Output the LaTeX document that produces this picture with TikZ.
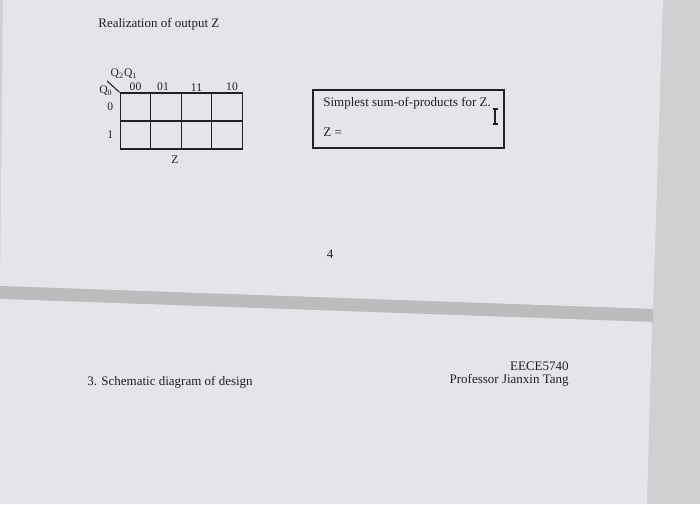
\documentclass[tikz,border=0pt]{standalone}
\usepackage{fontspec}
\setmainfont{Liberation Serif}
\usetikzlibrary{positioning}

\definecolor{pagegray}{HTML}{E4E5E8}
\definecolor{screengray}{HTML}{D0D0D2}
\definecolor{bandgray}{HTML}{BCBCBE}
\definecolor{inkgray}{HTML}{202022}

\tikzset{
	doctext/.style={font=\fontsize{7.4}{8.5}\selectfont, text=inkgray, inner sep=0pt},
	smalltext/.style={font=\fontsize{6.6}{7.5}\selectfont, text=inkgray, inner sep=0pt},
	kcell/.style={draw=inkgray, line width=0.8pt, minimum width=0.61cm, minimum height=0.56cm, inner sep=0pt},
	sopbox/.style={draw=inkgray, line width=0.8pt, minimum width=3.82cm, minimum height=1.16cm, inner sep=0pt}
}

\begin{document}
\begin{tikzpicture}[x=0.02cm, y=-0.02cm]
		\useasboundingbox (0,0) rectangle (700,504);
		% Screen, pages and the gap between them:
		\fill[screengray] (0,0) rectangle (700,504);
		\fill[pagegray] (3,0) -- (663,0) -- (653,309) -- (0,286) -- cycle;
		\fill[bandgray] (0,286) -- (653,309) -- (653,322) -- (0,299) -- cycle;
		\fill[pagegray] (0,299) -- (652,322) -- (647,504) -- (0,504) -- cycle;
		% Upper page:
		\node[doctext, anchor=west] (title) at (98,24) {Realization of output Z};
		\foreach \r in {0,1}
			\foreach \c in {0,...,3}
				\node[kcell] (k\r\c) at ({135.5+30.5*\c},{107+28*\r}) {};
		\foreach \c/\lab/\dx in {0/00/0, 1/01/-3, 2/11/0, 3/10/5}
			\node[smalltext, anchor=south] (h\c) at ([xshift=\dx*0.02cm, yshift=0.5pt]k0\c.north) {\lab};
		\node[smalltext, left=3.5pt of k00] (r0) {0};
		\node[smalltext, left=3.5pt of k10] (r1) {1};
		\coordinate (diag) at (107,81);
		\draw[inkgray, line width=0.6pt] (k00.north west) -- (diag);
		\node[smalltext] (qtwoone) at (124,74) {Q\textsubscript{2}Q\textsubscript{1}};
		\node[smalltext] (qzero) at (106,91) {Q\textsubscript{0}};
		\node[smalltext] (zmap) at (175,160) {Z};
		\node[sopbox] (sop) at (408.5,119) {};
		\node[doctext, anchor=west] (soptitle) at (323,103) {Simplest sum-of-products for Z.};
		\node[doctext, anchor=west] (zeq) at (323,132) {Z =};
		\draw[inkgray, line width=0.6pt] (495,109) -- (495,124) (492.5,109) -- (497.5,109) (492.5,124) -- (497.5,124);
		\node[doctext] (pagenum) at (330,254) {4};
		% Lower page:
		\node[doctext, anchor=west] (schem) at (87,382) {3. Schematic diagram of design};
		\node[doctext, anchor=east] (course) at (569,366) {EECE5740};
		\node[doctext, anchor=east] (prof) at (569,380) {Professor Jianxin Tang};
	\end{tikzpicture}
\end{document}
